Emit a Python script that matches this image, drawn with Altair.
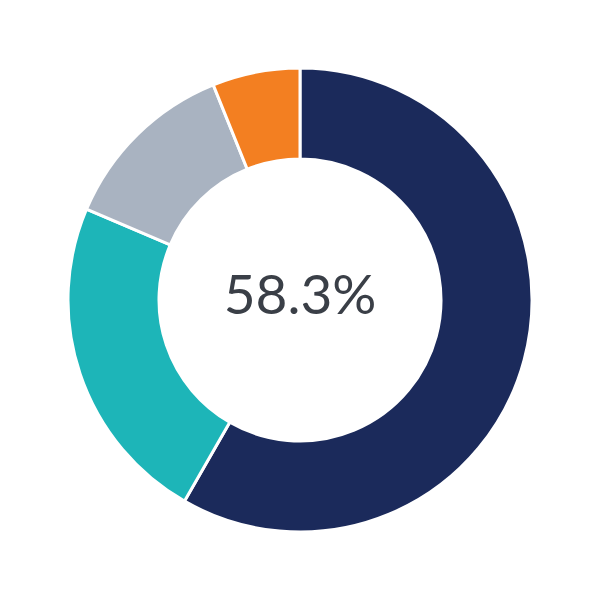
import altair as alt
import pandas as pd

categories = ["A", "B", "C", "D"]
values = [58.3, 23.1, 12.5, 6.1]
colors = ["#1b2a5b", "#1db5b8", "#a9b3c1", "#f37f21"]
center_label = "58.3%"

df = pd.DataFrame({"cat": categories, "val": values, "order": list(range(len(categories)))})

arc = alt.Chart(df).mark_arc(
    innerRadius=141, outerRadius=232, stroke="white", strokeWidth=3
).encode(
    theta=alt.Theta("val:Q", stack=True),
    order=alt.Order("order:Q"),
    color=alt.Color("cat:N", scale=alt.Scale(domain=categories, range=colors), legend=None),
)

text = alt.Chart(pd.DataFrame({"t": [center_label]})).mark_text(
    font="Lato", fontSize=55, fontWeight=400, color="#3a3f47", baseline="middle", align="center"
).encode(
    text="t:N",
    x=alt.value(292),
    y=alt.value(289),
)

chart = alt.layer(arc, text).properties(
    width=584, height=584, padding=0, autosize=alt.AutoSizeParams(type="none")
).configure_view(stroke=None)

chart.save("out.html", embed_options={"renderer": "svg", "actions": False})
